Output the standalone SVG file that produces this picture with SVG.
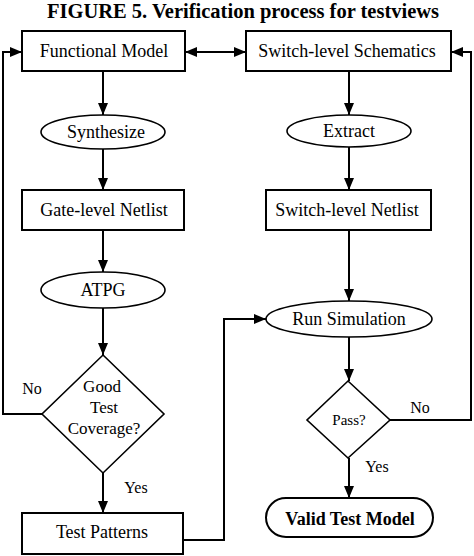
<svg xmlns="http://www.w3.org/2000/svg" width="474" height="556" viewBox="0 0 474 556">
<defs>
<marker id="arr" markerUnits="userSpaceOnUse" markerWidth="13" markerHeight="11" refX="12" refY="5" orient="auto-start-reverse">
<path d="M0,0 L12,5 L0,10 z" fill="#000"/>
</marker>
<style>
.box{fill:#fff;stroke:#000;stroke-width:2}
.sh{fill:#fff;stroke:#000;stroke-width:1.6}
.t{font-family:"Liberation Serif","Times New Roman",serif;font-size:18px;text-anchor:middle;fill:#000}
.d{font-family:"Liberation Serif","Times New Roman",serif;font-size:17px;text-anchor:middle;fill:#000}
.l{font-family:"Liberation Serif","Times New Roman",serif;font-size:16px;text-anchor:middle;fill:#000}
.b{font-weight:bold}
.c{fill:none;stroke:#000;stroke-width:2}
</style>
</defs>
<rect width="474" height="556" fill="#fff"/>
<text x="243" y="18" class="t b" style="font-size:20.5px">FIGURE 5. Verification process for testviews</text>

<g id="connectors">
<path class="c" d="M185,52 L246,52" marker-start="url(#arr)" marker-end="url(#arr)"/>
<path class="c" d="M103,71 L103,115" marker-end="url(#arr)"/>
<path class="c" d="M103,149 L103,190" marker-end="url(#arr)"/>
<path class="c" d="M103,230 L103,272" marker-end="url(#arr)"/>
<path class="c" d="M103,308 L103,355" marker-end="url(#arr)"/>
<path class="c" d="M103,473 L103,513" marker-end="url(#arr)"/>
<path class="c" d="M42,414 L3,414 L3,52 L22,52" marker-end="url(#arr)"/>
<path class="c" d="M183,540 L224,540 L224,319 L266,319" marker-end="url(#arr)"/>
<path class="c" d="M349,71 L349,115" marker-end="url(#arr)"/>
<path class="c" d="M349,147 L349,190" marker-end="url(#arr)"/>
<path class="c" d="M349,230 L349,301" marker-end="url(#arr)"/>
<path class="c" d="M349,337 L349,381" marker-end="url(#arr)"/>
<path class="c" d="M349,458 L349,498" marker-end="url(#arr)"/>
<path class="c" d="M390,420 L471,420 L471,52 L451,52" marker-end="url(#arr)"/>
<text x="32" y="394" class="l">No</text>
<text x="136" y="493" class="l">Yes</text>
<text x="420" y="413" class="l">No</text>
<text x="377" y="472" class="l">Yes</text>
</g>

<g id="functional-model">
<rect class="box" x="22" y="31" width="163" height="40"/>
<text x="104" y="57" class="t">Functional Model</text>
</g>
<g id="switch-schematics">
<rect class="box" x="246" y="31" width="205" height="40"/>
<text x="347" y="57" class="t">Switch-level Schematics</text>
</g>
<g id="synthesize">
<ellipse class="sh" cx="103" cy="132" rx="62" ry="17"/>
<text x="106" y="138" class="t">Synthesize</text>
</g>
<g id="extract">
<ellipse class="sh" cx="349" cy="131" rx="62" ry="16"/>
<text x="349" y="137" class="t">Extract</text>
</g>
<g id="gate-netlist">
<rect class="box" x="22" y="190" width="162" height="40"/>
<text x="104" y="216" class="t">Gate-level Netlist</text>
</g>
<g id="switch-netlist">
<rect class="box" x="266" y="190" width="165" height="40"/>
<text x="347" y="216" class="t">Switch-level Netlist</text>
</g>
<g id="atpg">
<ellipse class="sh" cx="103" cy="290" rx="62" ry="18"/>
<text x="103" y="296" class="t">ATPG</text>
</g>
<g id="coverage">
<polygon class="sh" points="103,355 164,414 103,473 42,414"/>
<text x="102" y="392" class="d">Good</text>
<text x="104" y="413" class="d">Test</text>
<text x="104" y="434" class="d">Coverage?</text>
</g>
<g id="test-patterns">
<rect class="box" x="22" y="513" width="161" height="41"/>
<text x="102" y="538" class="t">Test Patterns</text>
</g>
<g id="run-simulation">
<ellipse class="sh" cx="349" cy="319" rx="83" ry="18"/>
<text x="349" y="325" class="t">Run Simulation</text>
</g>
<g id="pass">
<polygon class="sh" points="348,381 390,420 348,458 307,420"/>
<text x="349" y="425" class="l" style="font-size:15px">Pass?</text>
</g>
<g id="valid-test-model">
<rect class="box" x="266" y="498" width="167" height="39" rx="20" ry="19.5"/>
<text x="350" y="525" class="t b">Valid Test Model</text>
</g>
</svg>
